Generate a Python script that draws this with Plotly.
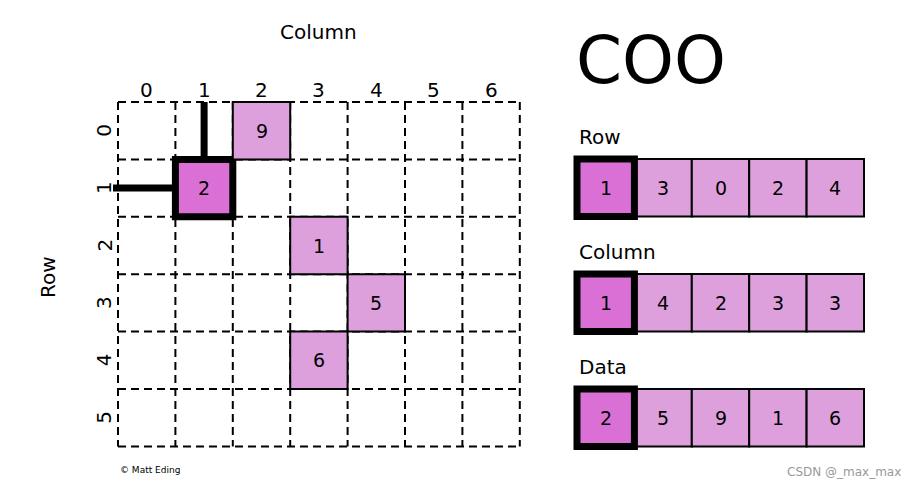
import plotly.graph_objects as go

n_rows, n_cols = 6, 7
rows = [1, 3, 0, 2, 4]
cols = [1, 4, 2, 3, 3]
data = [2, 5, 9, 1, 6]
col_ticks = ["0", "1", "2", "3", "4", "5", "6"]
row_ticks = ["0", "1", "2", "3", "4", "5"]
array_titles = ["Row", "Column", "Data"]

LIGHT = "#dda0dd"
DARK = "#da70d6"
F = "DejaVu Sans, sans-serif"
DASH = "8px,5px"

gx0, gy0, cw, ch = 118, 102, 57.4, 57.4
ax0 = 577
arr_y = [159, 274, 389]

fig = go.Figure()
shapes, ann = [], []

for i in range(n_cols + 1):
    x = gx0 + i * cw
    shapes.append(dict(type="line", x0=x, x1=x, y0=gy0, y1=gy0 + n_rows * ch,
                       line=dict(color="black", width=2, dash=DASH)))
for j in range(n_rows + 1):
    y = gy0 + j * ch
    shapes.append(dict(type="line", x0=gx0, x1=gx0 + n_cols * cw, y0=y, y1=y,
                       line=dict(color="black", width=2, dash=DASH)))

for k, (r, c, v) in enumerate(zip(rows, cols, data)):
    x0, y0 = gx0 + c * cw, gy0 + r * ch
    shapes.append(dict(type="rect", x0=x0, x1=x0 + cw, y0=y0, y1=y0 + ch,
                       fillcolor=DARK if k == 0 else LIGHT,
                       line=dict(color="black", width=7 if k == 0 else 2)))
    ann.append(dict(x=x0 + cw / 2, y=y0 + ch / 2, text=str(v), showarrow=False,
                    font=dict(size=19, color="black", family=F)))

r0, c0 = rows[0], cols[0]
shapes.append(dict(type="line", x0=gx0 + (c0 + 0.5) * cw, x1=gx0 + (c0 + 0.5) * cw,
                   y0=gy0, y1=gy0 + r0 * ch, line=dict(color="black", width=7)))
shapes.append(dict(type="line", x0=gx0 - 5, x1=gx0 + c0 * cw,
                   y0=gy0 + (r0 + 0.5) * ch, y1=gy0 + (r0 + 0.5) * ch,
                   line=dict(color="black", width=7)))

for i, t in enumerate(col_ticks):
    ann.append(dict(x=gx0 + (i + 0.5) * cw, y=gy0 - 12, text=t, showarrow=False,
                    font=dict(size=20, color="black", family=F)))
for j, t in enumerate(row_ticks):
    ann.append(dict(x=gx0 - 14, y=gy0 + (j + 0.5) * ch, text=t, showarrow=False,
                    textangle=-90, font=dict(size=20, color="black", family=F)))
ann.append(dict(x=318, y=32, text="Column", showarrow=False,
                font=dict(size=20, color="black", family=F)))
ann.append(dict(x=48, y=277, text="Row", showarrow=False, textangle=-90,
                font=dict(size=20, color="black", family=F)))

ann.append(dict(x=ax0 - 3, y=60, text="COO", showarrow=False, xanchor="left",
                font=dict(size=66, color="black", family=F)))
for title, vals, y0 in zip(array_titles, [rows, cols, data], arr_y):
    ann.append(dict(x=ax0, y=y0 - 22, text=title, showarrow=False, xanchor="left",
                    font=dict(size=20, color="black", family=F)))
    for k, v in enumerate(vals):
        x0 = ax0 + k * cw
        shapes.append(dict(type="rect", x0=x0, x1=x0 + cw, y0=y0, y1=y0 + ch,
                           fillcolor=DARK if k == 0 else LIGHT,
                           line=dict(color="black", width=2)))
        ann.append(dict(x=x0 + cw / 2, y=y0 + ch / 2, text=str(v), showarrow=False,
                        font=dict(size=19, color="black", family=F)))
    shapes.append(dict(type="rect", x0=ax0, x1=ax0 + cw, y0=y0, y1=y0 + ch,
                       line=dict(color="black", width=7)))

ann.append(dict(x=118, y=470, text="© Matt Eding", showarrow=False, xanchor="left",
                font=dict(size=9, color="black", family=F)))
ann.append(dict(x=903, y=472, text="CSDN @_max_max", showarrow=False, xanchor="right",
                font=dict(size=12, color="#999999", family=F)))

fig.update_layout(width=909, height=481, margin=dict(l=0, r=0, t=0, b=0),
                  plot_bgcolor="white", paper_bgcolor="white", showlegend=False,
                  shapes=shapes, annotations=ann,
                  xaxis=dict(range=[8, 917], visible=False, fixedrange=True),
                  yaxis=dict(range=[489, 8], visible=False, fixedrange=True))
fig.write_html("out.html")
